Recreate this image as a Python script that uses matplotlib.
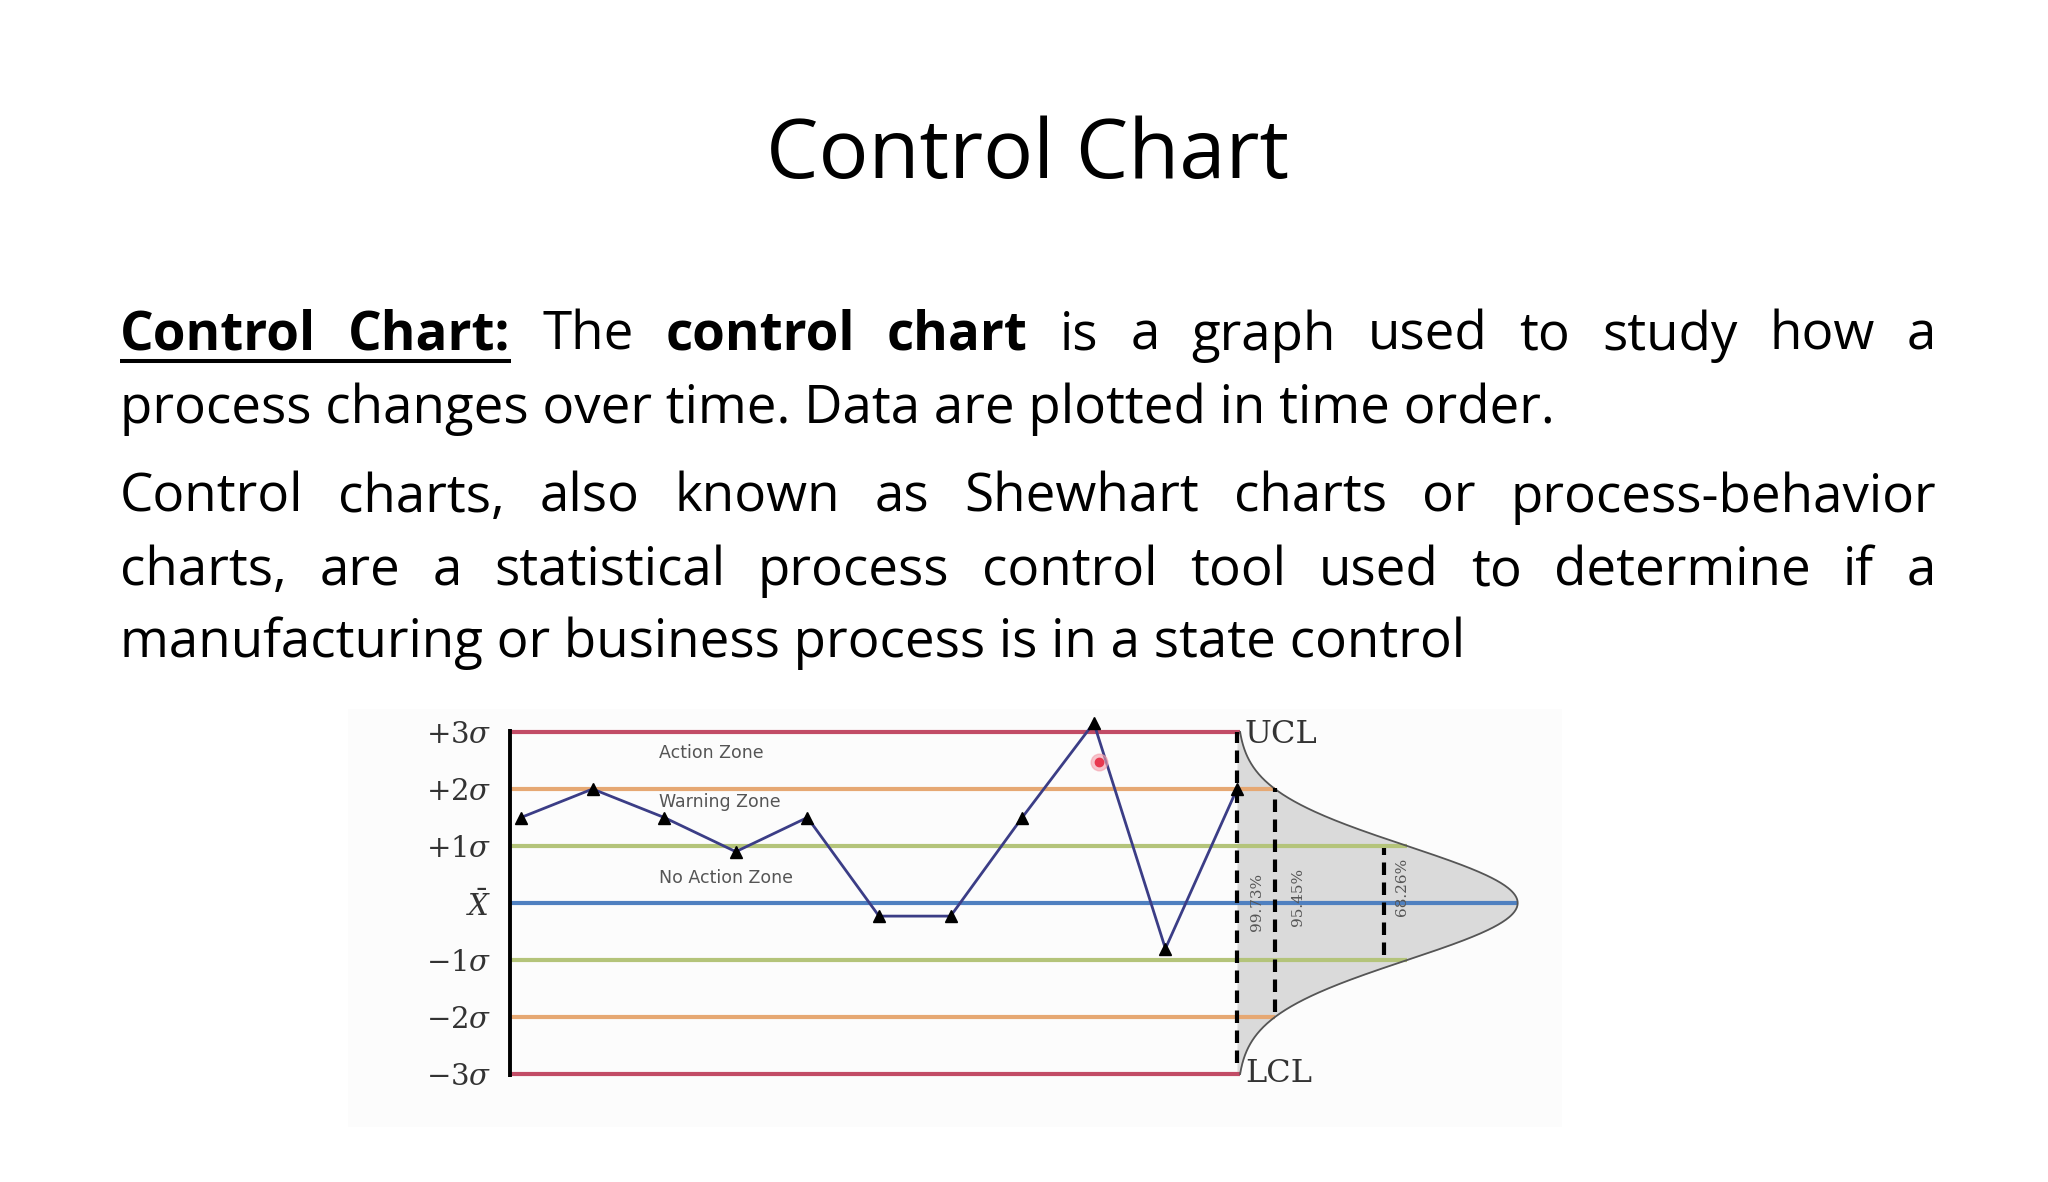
import matplotlib
matplotlib.use("Agg")
import matplotlib.pyplot as plt
from matplotlib.patches import Rectangle
import numpy as np

# canvas size in pixels (dpi 100)
W, H = 2048, 1182

# ---- text of the slide ----
title = "Control Chart"
line1 = [("Control", "bold"), ("Chart:", "bold"), ("The", "normal"),
         ("control", "bold"), ("chart", "bold"), ("is", "normal"), ("a", "normal"),
         ("graph", "normal"), ("used", "normal"), ("to", "normal"), ("study", "normal"),
         ("how", "normal"), ("a", "normal")]
line2 = "process changes over time. Data are plotted in time order."
line3 = "Control charts, also known as Shewhart charts or process-behavior"
line4 = "charts, are a statistical process control tool used to determine if a"
line5 = "manufacturing or business process is in a state control"

# ---- chart data ----
sigma_levels = [3, 2, 1, 0, -1, -2, -3]
level_labels = [r"$+3\sigma$", r"$+2\sigma$", r"$+1\sigma$", r"$\bar{X}$",
                r"$-1\sigma$", r"$-2\sigma$", r"$-3\sigma$"]
level_colors = ["#c24c66", "#e6a873", "#b4c47a", "#4f80c0",
                "#b4c47a", "#e6a873", "#c24c66"]
samples = np.arange(11)
values = [1.5, 2.0, 1.5, 0.9, 1.5, -0.23, -0.23, 1.5, 3.16, -0.8, 2.0]
zone_names = ["Action Zone", "Warning Zone", "No Action Zone"]
zone_y = [2.63, 1.77, 0.44]
coverage_labels = ["99.73%", "95.45%", "68.26%"]
coverage_x = [10.0, 10.53, 12.05]
coverage_span = [(-2.8, 3.0), (-1.92, 2.02), (-0.92, 0.96)]
coverage_text_pos = [(10.28, 0.02), (10.85, 0.1), (12.3, 0.28)]
red_dot = (8.07, 2.47)

plt.rcParams["mathtext.fontset"] = "dejavuserif"
body_font = "Open Sans"

fig = plt.figure(figsize=(W / 100, H / 100), dpi=100)
fig.patch.set_facecolor("white")

# overlay axes working in pixel coordinates
tx = fig.add_axes([0, 0, 1, 1])
tx.set_xlim(0, W)
tx.set_ylim(H, 0)
tx.axis("off")

renderer = fig.canvas.get_renderer()


def text_width(s, size, weight="normal"):
    t = tx.text(0, 0, s, fontsize=size, fontweight=weight, family=body_font)
    w = t.get_window_extent(renderer).width
    t.remove()
    return w


# fit font sizes to the widths seen on the slide
body_size = 40 * 1432 / text_width(line2, 40)
title_size = 60 * 523 / text_width(title, 60)

tx.text(1028, 178, title, fontsize=title_size, family=body_font,
        ha="center", va="baseline")

LEFT, RIGHT = 120, 1936


def justified(words, y):
    widths = [text_width(w, body_size, wt) for w, wt in words]
    gap = (RIGHT - LEFT - sum(widths)) / (len(words) - 1)
    x = LEFT
    spans = []
    for (w, wt), wd in zip(words, widths):
        tx.text(x, y, w, fontsize=body_size, fontweight=wt, family=body_font,
                ha="left", va="baseline")
        spans.append((x, x + wd))
        x += wd + gap
    return spans


spans = justified(line1, 350)
# underline under "Control Chart:"
tx.plot([spans[0][0], spans[1][1]], [361, 361], color="black", lw=2.9,
        solid_capstyle="butt")
tx.text(LEFT, 423, line2, fontsize=body_size, family=body_font, va="baseline")
justified([(w, "normal") for w in line3.split()], 512)
justified([(w, "normal") for w in line4.split()], 585)
tx.text(LEFT, 657, line5, fontsize=body_size, family=body_font, va="baseline")

# faint background of the pasted chart picture
tx.add_patch(Rectangle((348, 709), 1562 - 348, 1127 - 709,
                       facecolor="#fcfcfc", edgecolor="none", zorder=0))

# ---- chart axes ----
# pixel mapping: sample i -> 521 + 71.6*i ; sigma s -> 903 - 57*s
ax_l, ax_r, ax_t, ax_b = 510, 1560, 705, 1140
ax = fig.add_axes([ax_l / W, 1 - ax_b / H, (ax_r - ax_l) / W, (ax_b - ax_t) / H])
ax.set_facecolor("none")
ax.set_xlim((ax_l - 521) / 71.6, (ax_r - 521) / 71.6)
ax.set_ylim((903 - ax_b) / 57, (903 - ax_t) / 57)
for sp in ax.spines.values():
    sp.set_visible(False)
x0 = ax.get_xlim()[0]

# normal curve on its side, attached at the last sample
base = samples[-1]
amp = 3.92
z = np.linspace(-3, 3, 400)
bell = base + amp * np.exp(-z ** 2 / 2)
ax.fill_betweenx(z, base, bell, color="#dadada", zorder=1, lw=0)
ax.plot(bell, z, color="#555555", lw=1.3, zorder=2.5)

for s, c in zip(sigma_levels, level_colors):
    end = base + amp * np.exp(-s ** 2 / 2)
    ax.plot([x0, end], [s, s], color=c, lw=3, zorder=2, solid_capstyle="butt")

# y axis line
ax.plot([x0, x0], [-3.05, 3.05], color="black", lw=2.8, zorder=3,
        solid_capstyle="butt", clip_on=False)

for cx, (lo, hi) in zip(coverage_x, coverage_span):
    ax.plot([cx, cx], [lo, hi], color="black", lw=3, ls=(0, (3, 1.8)), zorder=3)
for lab, (px, py) in zip(coverage_labels, coverage_text_pos):
    ax.text(px, py, lab, rotation=90, ha="center", va="center",
            family="DejaVu Serif", fontsize=11, color="#555555", zorder=4)

ax.plot(samples, values, color="#3b3d86", lw=2, zorder=4)
ax.plot(samples, values, ls="none", marker="^", ms=9, mfc="black", mec="black",
        zorder=5)
ax.plot(*red_dot, marker="o", ms=12, color="#f4a0ac", alpha=0.6, zorder=5)
ax.plot(*red_dot, marker="o", ms=6, color="#e8384f", zorder=6)

for name, zy in zip(zone_names, zone_y):
    ax.text(1.93, zy, name, ha="left", va="center", family="DejaVu Sans",
            fontsize=12.5, color="#555555", zorder=4)

ax.text(10.11, 2.81, "UCL", family="DejaVu Serif", fontsize=23, color="#333333",
        va="baseline", ha="left", zorder=4)
ax.text(10.11, -3.14, "LCL", family="DejaVu Serif", fontsize=23, color="#333333",
        va="baseline", ha="left", zorder=4)

ax.set_xticks([])
ax.set_yticks(sigma_levels, level_labels)
ax.tick_params(axis="y", length=0, pad=13, labelsize=21, labelcolor="#333333")

fig.savefig("out.png", dpi=100, facecolor="white")
